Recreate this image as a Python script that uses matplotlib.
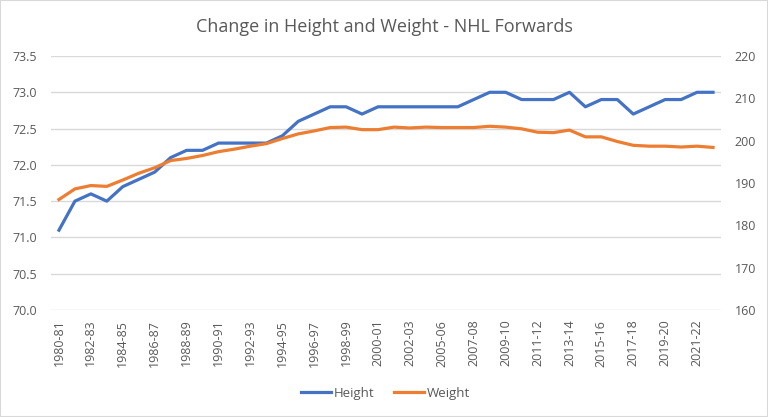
import matplotlib.pyplot as plt
from matplotlib.patches import Rectangle

plt.rcParams['font.family'] = ['Open Sans', 'DejaVu Sans']

seasons = ['1980-81', '1981-82', '1982-83', '1983-84', '1984-85', '1985-86', '1986-87',
           '1987-88', '1988-89', '1989-90', '1990-91', '1991-92', '1992-93', '1993-94',
           '1994-95', '1995-96', '1996-97', '1997-98', '1998-99', '1999-00', '2000-01',
           '2001-02', '2002-03', '2003-04', '2005-06', '2006-07', '2007-08', '2008-09',
           '2009-10', '2010-11', '2011-12', '2012-13', '2013-14', '2014-15', '2015-16',
           '2016-17', '2017-18', '2018-19', '2019-20', '2020-21', '2021-22', '2022-23']

height = [71.1, 71.5, 71.6, 71.5, 71.7, 71.8, 71.9, 72.1, 72.2, 72.2, 72.3, 72.3, 72.3, 72.3,
          72.4, 72.6, 72.7, 72.8, 72.8, 72.7, 72.8, 72.8, 72.8, 72.8, 72.8, 72.8, 72.9, 73.0,
          73.0, 72.9, 72.9, 72.9, 73.0, 72.8, 72.9, 72.9, 72.7, 72.8, 72.9, 72.9, 73.0, 73.0]

weight = [186.1, 188.6, 189.4, 189.2, 190.7, 192.3, 193.6, 195.3, 195.8, 196.5, 197.4, 198.0,
          198.7, 199.3, 200.5, 201.6, 202.3, 203.1, 203.2, 202.6, 202.6, 203.2, 203.0, 203.2,
          203.1, 203.1, 203.1, 203.4, 203.2, 202.8, 202.0, 201.9, 202.5, 200.9, 200.9, 199.8,
          198.9, 198.7, 198.7, 198.5, 198.7, 198.4]

left_ticks = [70.0, 70.5, 71.0, 71.5, 72.0, 72.5, 73.0, 73.5]
right_ticks = [160, 170, 180, 190, 200, 210, 220]

blue = '#4472C4'
orange = '#ED7D31'
grey_text = '#595959'

fig = plt.figure(figsize=(7.68, 4.17), dpi=100)
fig.patches.append(Rectangle((0, 0), 1, 1, transform=fig.transFigure, fill=False,
                             edgecolor='#d9d9d9', linewidth=1.5))

ax = fig.add_axes([0.0664, 0.2566, 0.8724, 0.6091])
ax2 = ax.twinx()

x = list(range(len(seasons)))
l1, = ax.plot(x, height, color=blue, linewidth=2.3, label='Height', zorder=3)
l2, = ax2.plot(x, weight, color=orange, linewidth=2.3, label='Weight', zorder=3)

ax.set_xlim(-0.5, len(seasons) - 0.5)
ax.set_ylim(70.0, 73.5)
ax2.set_ylim(160, 220)
ax.set_yticks(left_ticks)
ax.set_yticklabels([f'{v:.1f}' for v in left_ticks])
ax2.set_yticks(right_ticks)

ax.set_xticks(x[::2])
ax.set_xticklabels(seasons[::2], rotation=90)

ax.grid(axis='y', color='#d9d9d9', linewidth=1)
ax.set_axisbelow(True)
for a in (ax, ax2):
    for s in a.spines.values():
        s.set_visible(False)
    a.tick_params(length=0, colors=grey_text, labelsize=9)
ax.tick_params(axis='y', pad=10)
ax2.tick_params(axis='y', pad=10)
ax.tick_params(axis='x', pad=7)

fig.text(0.5, 0.935, 'Change in Height and Weight - NHL Forwards', ha='center', va='center',
         fontsize=13, color=grey_text)

fig.legend(handles=[l1, l2], loc='center', bbox_to_anchor=(0.502, 0.057), ncol=2,
           frameon=False, fontsize=9.5, labelcolor=grey_text, handlelength=2.3,
           handletextpad=0.2, columnspacing=1.5)

fig.savefig('out.png', dpi=100)
